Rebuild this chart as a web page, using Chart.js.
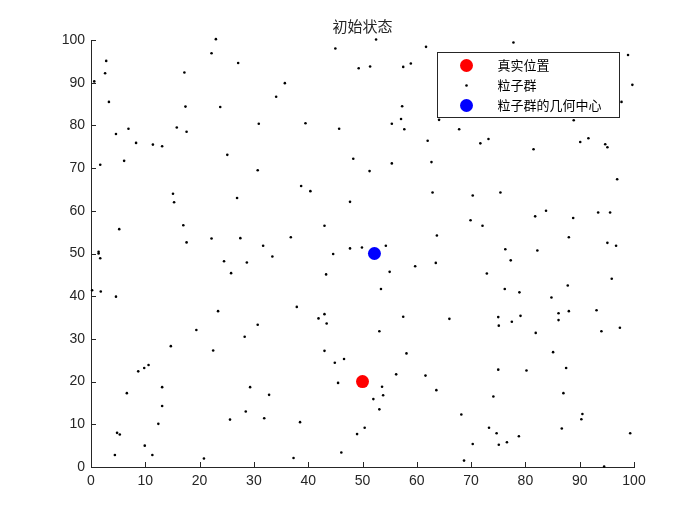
<!DOCTYPE html>
<html><head><meta charset="utf-8">
<script src="https://cdn.jsdelivr.net/npm/chart.js@4/dist/chart.umd.min.js"></script>
<style>html,body{margin:0;padding:0;background:#fff}#w{width:700px;height:525px}</style>
</head><body><div id="w"><canvas id="c"></canvas></div>
<script>
const titleText = '初始状态';
const legendLabels = ['真实位置','粒子群','粒子群的几何中心'];
const tickValues = [0,10,20,30,40,50,60,70,80,90,100];
const truePos = [[50,20]];
const center = [[52.2,50]];
const particles = [
[23,100.2],[22.2,96.9],[45,98],[2.8,95.1],[2.6,92.2],[27.1,94.6],[49.3,93.4],[0.6,90.3],[17.2,92.4],[35.7,89.9],
[34.1,86.7],[3.3,85.5],[17.4,84.4],[23.8,84.3],[30.9,80.4],[39.5,80.5],[4.6,78],[6.9,79.2],[15.8,79.5],[17.6,78.5],
[45.7,79.2],[8.3,75.9],[11.4,75.5],[13.1,75.1],[25.1,73.1],[48.3,72.2],[1.7,70.8],[6.1,71.7],[30.7,69.5],[38.7,65.8],
[40.4,64.6],[15.1,64],[15.3,62],[26.9,63],[47.7,62.1],[5.2,55.7],[17,56.6],[43,56.5],[17.6,52.6],[22.2,53.5],
[27.5,53.6],[36.8,53.8],[31.7,51.8],[47.7,51.2],[49.9,51.4],[1.4,50.4],
[52.5,100.1],[61.7,98.4],[77.8,99.4],[51.4,93.8],[57.5,93.7],[58.9,94.5],[98.9,96.5],[99.7,89.5],[97.7,85.5],[57.3,84.5],
[55.4,80.4],[57.1,81.5],[57.7,79.1],[64.1,81.3],[67.8,79.1],[88.9,81.2],[62,76.4],[71.7,75.8],[73.2,76.8],[81.5,74.4],
[90.1,76.1],[91.6,77],[94.7,75.6],[95.1,74.9],[55.4,71.1],[62.7,71.4],[51.3,69.3],[96.9,67.4],[62.9,64.3],[70.3,63.6],
[75.4,64.3],[69.9,57.8],[72.1,56.5],[81.8,58.7],[83.8,60],[88.8,58.3],[93.4,59.6],[95.6,59.6],[63.7,54.2],[88,53.8],
[95.1,52.5],[96.7,51.8],[54.3,51.8],[76.3,51],[82.2,50.7],
[1.4,50],[1.7,48.9],[24.5,48.2],[28.7,47.9],[33.4,49.3],[44.6,49.9],[25.8,45.4],[43.3,45.1],[0.2,41.4],[1.8,41.1],
[4.6,39.9],[23.4,36.5],[37.9,37.5],[41.9,34.8],[43,35.8],[43.4,33.6],[30.7,33.3],[19.4,32.1],[28.3,30.5],[14.7,28.3],
[22.5,27.3],[43,27.2],[44.9,24.4],[46.6,25.3],[8.7,22.4],[9.8,23.2],[10.6,23.9],[45.5,19.7],[13.1,18.7],[29.3,18.7],
[6.6,17.3],[32.8,16.9],[13.1,14.3],[28.5,13],[25.6,11.1],[31.9,11.4],[38.5,10.5],[12.4,10.1],[4.8,8],[5.3,7.6],
[49,7.7],[9.9,5],[4.4,2.8],[11.3,2.8],[20.8,2],[37.3,2.1],[46.1,3.4],
[77.3,48.4],[59.7,47],[63.5,47.8],[55,45.7],[72.9,45.3],[95.9,44.1],[53.4,41.7],[76.2,41.7],[78.9,40.9],[87.8,42.5],
[84.8,39.7],[57.5,35.2],[66,34.7],[75,35.1],[75.1,33.1],[77.5,34],[79.1,35.4],[86.1,36],[88,36.5],[86.1,34.4],
[93.1,36.7],[81.9,31.4],[94,31.8],[97.4,32.6],[53.1,31.8],[58.1,26.6],[85.1,26.9],[87.5,23.2],[75,22.8],[80.2,22.6],
[56.2,21.7],[61.6,21.4],[63.6,18],[53.6,18.8],[53.8,16.8],[52,15.9],[53.1,13.5],[74.1,16.5],[87,17.3],[68.2,12.3],
[90.5,12.4],[90.3,11.2],[50.4,9.2],[73.3,9.2],[74.7,7.9],[86.7,9],[99.3,7.9],[78.8,7.2],[70.3,5.4],[75.1,5.2],
[76.6,5.8],[68.7,1.5],[94.5,0.1]
];
const toXY = a => a.map(p => ({x:p[0], y:p[1]}));
const axisFont = {family:'Liberation Sans, Arial', size:14};
const cjk = '"Noto Sans CJK SC", sans-serif';

const deco = {
  id:'deco',
  afterDraw(ch){
    const c = ch.ctx, a = ch.chartArea, xs = ch.scales.x, ys = ch.scales.y;
    c.save();
    c.strokeStyle = '#262626'; c.lineWidth = 1;
    tickValues.forEach(v => {
      const px = Math.round(xs.getPixelForValue(v))+0.5;
      c.beginPath(); c.moveTo(px, a.bottom); c.lineTo(px, a.bottom-5); c.stroke();
      const py = Math.round(ys.getPixelForValue(v))+0.5;
      c.beginPath(); c.moveTo(a.left, py); c.lineTo(a.left+5, py); c.stroke();
    });
    c.fillStyle = '#262626'; c.font = '15px ' + cjk; c.textAlign = 'center'; c.textBaseline = 'bottom';
    c.fillText(titleText, (a.left+a.right)/2, a.top-6);
    const bx = 437.5, by = 52.5, bw = 182, bh = 65;
    c.fillStyle = '#fff'; c.fillRect(bx, by, bw, bh);
    c.strokeStyle = '#262626'; c.strokeRect(bx, by, bw, bh);
    const rows = [{col:'#ff0000', r:6.5}, {col:'#000', r:1.3}, {col:'#0000ff', r:6.5}];
    c.font = '13px ' + cjk; c.textAlign = 'left'; c.textBaseline = 'middle';
    rows.forEach((r,i) => {
      const y = by + 13 + i*20;
      c.fillStyle = r.col; c.beginPath(); c.arc(bx+29, y, r.r, 0, Math.PI*2); c.fill();
      c.fillStyle = '#000'; c.fillText(legendLabels[i], bx+60, y);
    });
    c.restore();
  }
};

new Chart(document.getElementById('c'), {
  type:'scatter',
  data:{datasets:[
    {label:legendLabels[1], data:toXY(particles), pointRadius:1.3, pointBackgroundColor:'#000', pointBorderWidth:0, order:3, clip:false},
    {label:legendLabels[0], data:toXY(truePos), pointRadius:6.5, pointBackgroundColor:'#ff0000', pointBorderWidth:0, order:1},
    {label:legendLabels[2], data:toXY(center), pointRadius:6.5, pointBackgroundColor:'#0000ff', pointBorderWidth:0, order:2}
  ]},
  options:{
    responsive:true, maintainAspectRatio:false, animation:false,
    layout:{padding:{left:46, right:66, top:40, bottom:30}},
    plugins:{legend:{display:false}, tooltip:{enabled:false}},
    scales:{
      x:{type:'linear', min:0, max:100,
        afterBuildTicks(s){ s.ticks = tickValues.map(v=>({value:v})); },
        afterFit(s){ s.height = 28; },
        grid:{display:false, drawTicks:false}, border:{display:true, color:'#262626'},
        ticks:{color:'#262626', font:axisFont, padding:6, maxRotation:0, autoSkip:false}},
      y:{type:'linear', min:0, max:100,
        afterBuildTicks(s){ s.ticks = tickValues.map(v=>({value:v})); },
        afterFit(s){ s.width = 45; },
        grid:{display:false, drawTicks:false}, border:{display:true, color:'#262626'},
        ticks:{color:'#262626', font:axisFont, padding:6, autoSkip:false}}
    }
  },
  plugins:[deco]
});
</script></body></html>
